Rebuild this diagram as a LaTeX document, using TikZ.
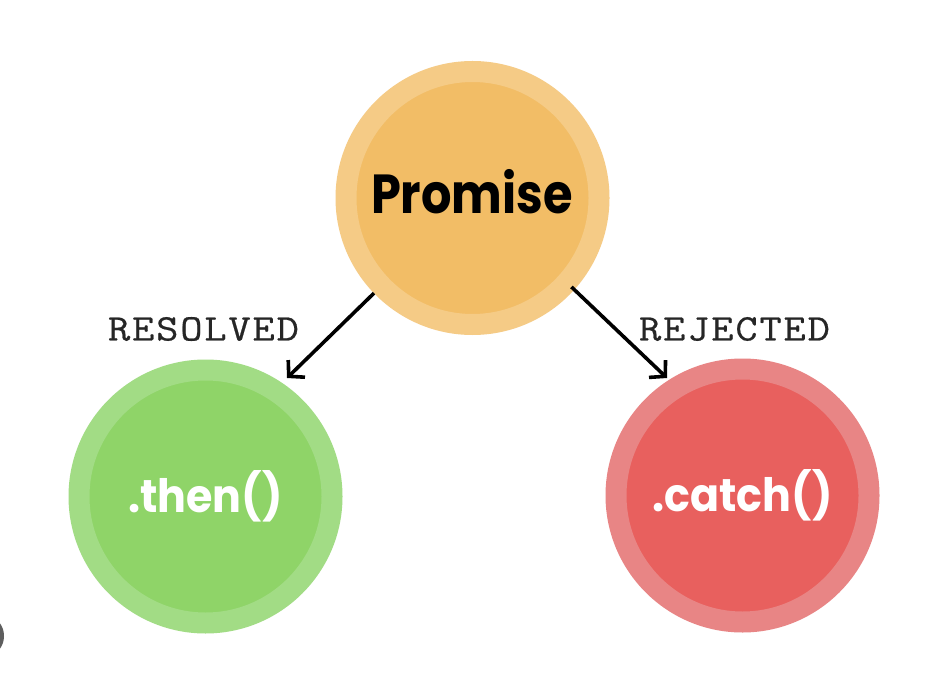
\documentclass[tikz,border=0pt]{standalone}
\usepackage{fontspec}
\setmainfont{Poppins}
\newfontfamily\lblfont{Latin Modern Mono}[LetterSpace=5,FakeStretch=1.15,FakeBold=0.6]
\usetikzlibrary{arrows.meta}
\definecolor{porg}{HTML}{F5CB86}
\definecolor{pinn}{HTML}{F2BD66}
\definecolor{gorg}{HTML}{A2DC85}
\definecolor{ginn}{HTML}{8FD468}
\definecolor{rorg}{HTML}{E88585}
\definecolor{rinn}{HTML}{E8605E}
\definecolor{blob}{HTML}{5E5E5E}
\tikzset{
  ball/.style={circle, inner sep=0pt, line width=21pt, minimum size=253pt},
  bigtxt/.style={font=\fontsize{55}{55}\selectfont\bfseries\addfontfeature{FakeStretch=0.87}, inner sep=0pt},
  smalltxt/.style={font=\fontsize{46}{46}\selectfont\bfseries\addfontfeature{FakeStretch=0.93}},
  statelbl/.style={font=\lblfont\fontsize{37.5}{37.5}\selectfont, inner sep=0pt, text=black!85},
  arr/.style={line width=3.6pt, -{Straight Barb[length=11pt,width=24pt,line width=3.6pt]}}
}
\begin{document}
\begin{tikzpicture}[x=1pt,y=-1pt]
\useasboundingbox[fill=white] (0,0) rectangle (952,700);
\fill[blob] (-10,636) ellipse [x radius=14pt, y radius=18pt];
\node[ball, draw=porg, fill=pinn] (P) at (472.5,198) {};
\node[bigtxt, text=black] (Pt) at (472,192) {Promise};
\node[ball, draw=gorg, fill=ginn, smalltxt, text=white] (T) at (205.5,496.5) {.then()};
\node[ball, draw=rorg, fill=rinn, smalltxt, text=white] (C) at (742.5,495.5) {.catch()};
\node[statelbl] (RS) at (203.5,329) {RESOLVED};
\node[statelbl] (RJ) at (734.5,329) {REJECTED};
\coordinate (tl) at (287,378);
\coordinate (tr) at (667,378);
\draw[arr] (P.224) -- (tl);
\draw[arr, shorten <=-4pt] (P.318) -- (tr);
\end{tikzpicture}
\end{document}
